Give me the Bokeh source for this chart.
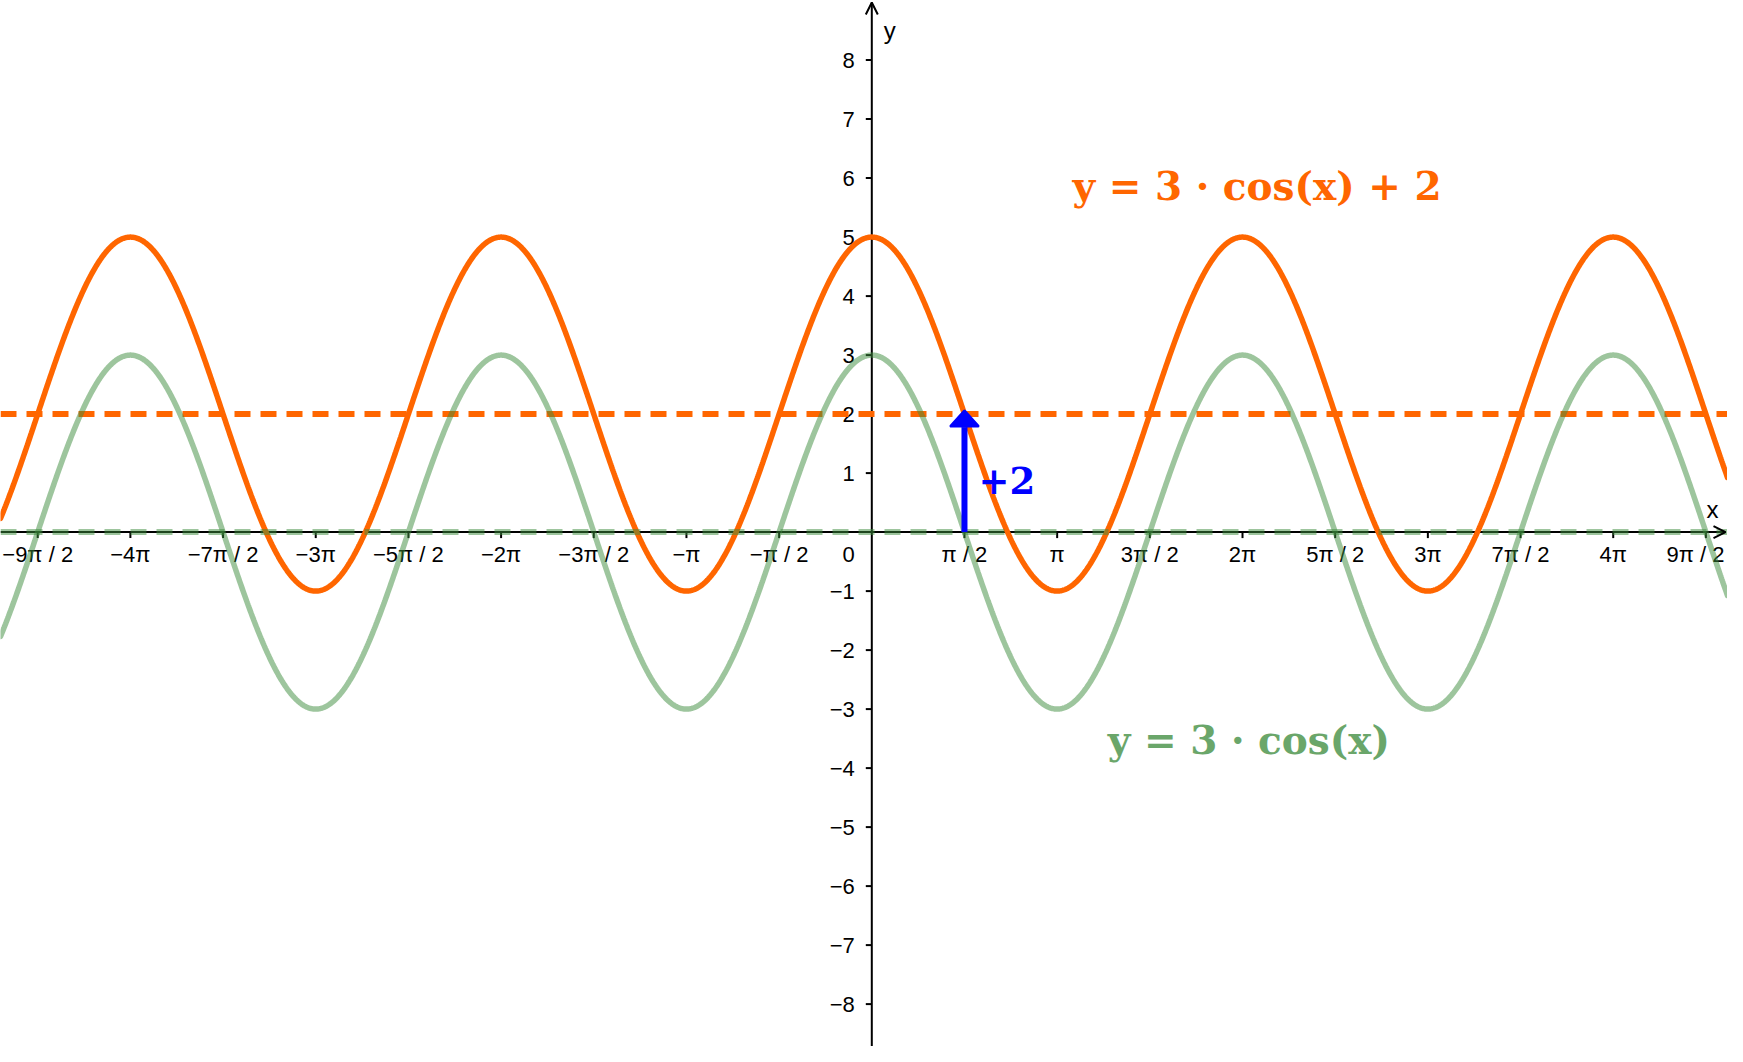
import numpy as np
from bokeh.plotting import figure
from bokeh.models import Range1d, Arrow, OpenHead
from bokeh.embed import file_html
from bokeh.resources import INLINE
from bokeh.core.properties import value

# ---------------- data ----------------
amplitude = 3.0          # y = 3·cos(x)
vertical_shift = 2.0     # y = 3·cos(x) + 2
x_tick_multiples = [-9, -8, -7, -6, -5, -4, -3, -2, -1, 1, 2, 3, 4, 5, 6, 7, 8, 9]  # multiples of pi/2
x_tick_labels = ["−9π / 2", "−4π", "−7π / 2", "−3π", "−5π / 2", "−2π", "−3π / 2", "−π", "−π / 2",
                 "π / 2", "π", "3π / 2", "2π", "5π / 2", "3π", "7π / 2", "4π", "9π / 2"]
y_tick_values = [-8, -7, -6, -5, -4, -3, -2, -1, 1, 2, 3, 4, 5, 6, 7, 8]
y_tick_labels = ["−8", "−7", "−6", "−5", "−4", "−3", "−2", "−1", "1", "2", "3", "4", "5", "6", "7", "8"]
shift_arrow_x = [np.pi / 2]
shift_arrow_from = [0.0]
shift_arrow_to = [2.0]
shift_label = ["+2"]
equation_texts = ["y = 3 · cos(x) + 2", "y = 3 · cos(x)"]

# ---------------- view ----------------
W, H = 1727, 1046
SCALE = 59.0                      # pixels per unit (equal aspect)
OX, OY = 871.3, 531.6             # origin position inside the plot frame (px)
X0, X1 = -OX / SCALE, (W - OX) / SCALE
Y1, Y0 = OY / SCALE, -(H - OY) / SCALE
PX = 1.0 / SCALE

ORANGE = "#FF6600"
GREEN = "#3C8C3C"
GREEN_TEXT = "#6AA66A"
BLUE = "#0000FF"

p = figure(width=W, height=H, x_range=Range1d(X0, X1), y_range=Range1d(Y0, Y1),
           output_backend="svg", toolbar_location=None, min_border=0,
           x_axis_type=None, y_axis_type=None, outline_line_color=None,
           background_fill_color="white", border_fill_color="white")
p.grid.visible = False

# ---------------- axes ----------------
p.segment(x0=[X0], y0=[0], x1=[X1 - 2 * PX], y1=[0], line_color="black", line_width=2)
p.segment(x0=[0], y0=[Y0], x1=[0], y1=[Y1 - 2 * PX], line_color="black", line_width=2)
p.add_layout(Arrow(end=OpenHead(size=12, line_color="black", line_width=2),
                   x_start=X1 - 40 * PX, y_start=0, x_end=X1 - 2 * PX, y_end=0,
                   line_color=None, line_alpha=0))
p.add_layout(Arrow(end=OpenHead(size=12, line_color="black", line_width=2),
                   x_start=0, y_start=Y1 - 40 * PX, x_end=0, y_end=Y1 - 2 * PX,
                   line_color=None, line_alpha=0))

xt = [m * np.pi / 2 for m in x_tick_multiples]
p.segment(x0=xt, y0=[0] * len(xt), x1=xt, y1=[-6 * PX] * len(xt), line_color="black", line_width=2)
p.segment(x0=[-6 * PX] * len(y_tick_values), y0=y_tick_values, x1=[0] * len(y_tick_values),
          y1=y_tick_values, line_color="black", line_width=2)

tick_font = value("Liberation Sans")
label_x = [min(t, X1 - 32 * PX) for t in xt]   # keep the last label inside the frame
p.text(x=label_x, y=[-22 * PX] * len(xt), text=x_tick_labels, text_align="center",
       text_baseline="middle", text_font=tick_font, text_font_size="22px", text_color="black")
p.text(x=[-17 * PX] * len(y_tick_values), y=y_tick_values, text=y_tick_labels, text_align="right",
       text_baseline="middle", text_font=tick_font, text_font_size="22px", text_color="black")
p.text(x=[-17 * PX], y=[-22 * PX], text=["0"], text_align="right", text_baseline="middle",
       text_font=tick_font, text_font_size="22px", text_color="black")
p.text(x=[14.25], y=[0.38], text=["x"], text_align="center", text_baseline="middle",
       text_font=tick_font, text_font_size="24px", text_color="black")
p.text(x=[0.305], y=[8.50], text=["y"], text_align="center", text_baseline="middle",
       text_font=tick_font, text_font_size="24px", text_color="black")

# ---------------- curves ----------------
xs = np.linspace(X0, X1, 2400)
y_base = amplitude * np.cos(xs)
y_shifted = y_base + vertical_shift

p.line(xs, y_shifted, line_color=ORANGE, line_width=5.5, line_cap="round")
p.segment(x0=[X0], y0=[vertical_shift], x1=[X1], y1=[vertical_shift], line_color=ORANGE,
          line_width=6, line_dash="16 10")
p.line(xs, y_base, line_color=GREEN, line_alpha=0.5, line_width=5.5, line_cap="round")
p.segment(x0=[X0], y0=[0], x1=[X1], y1=[0], line_color=GREEN, line_alpha=0.5,
          line_width=6, line_dash="16 10")

# ---------------- shift vector ----------------
head_len = 15 * PX
head_half = 13.5 * PX
p.segment(x0=shift_arrow_x, y0=shift_arrow_from, x1=shift_arrow_x,
          y1=[t - head_len + 2 * PX for t in shift_arrow_to], line_color=BLUE, line_width=6)
hx = [[x - head_half, x + head_half, x] for x in shift_arrow_x]
hy = [[t - 12 * PX, t - 12 * PX, t + 3 * PX] for t in shift_arrow_to]
p.patches(hx, hy, fill_color=BLUE, line_color=BLUE, line_width=3, line_join="round")

serif = value("DejaVu Serif")
p.text(x=[1.81], y=[0.875], text=shift_label, text_align="left",
       text_baseline="middle", text_font=serif, text_font_style="bold",
       text_font_size="37px", text_color=BLUE)

# ---------------- equation labels ----------------
p.text(x=[6.53], y=[5.86], text=[equation_texts[0]], text_align="center", text_baseline="middle",
       text_font=serif, text_font_style="bold", text_font_size="39px", text_color=ORANGE)
p.text(x=[6.39], y=[-3.52], text=[equation_texts[1]], text_align="center", text_baseline="middle",
       text_font=serif, text_font_style="bold", text_font_size="39px", text_color=GREEN_TEXT)

open("out.html", "w").write(file_html(p, INLINE))
